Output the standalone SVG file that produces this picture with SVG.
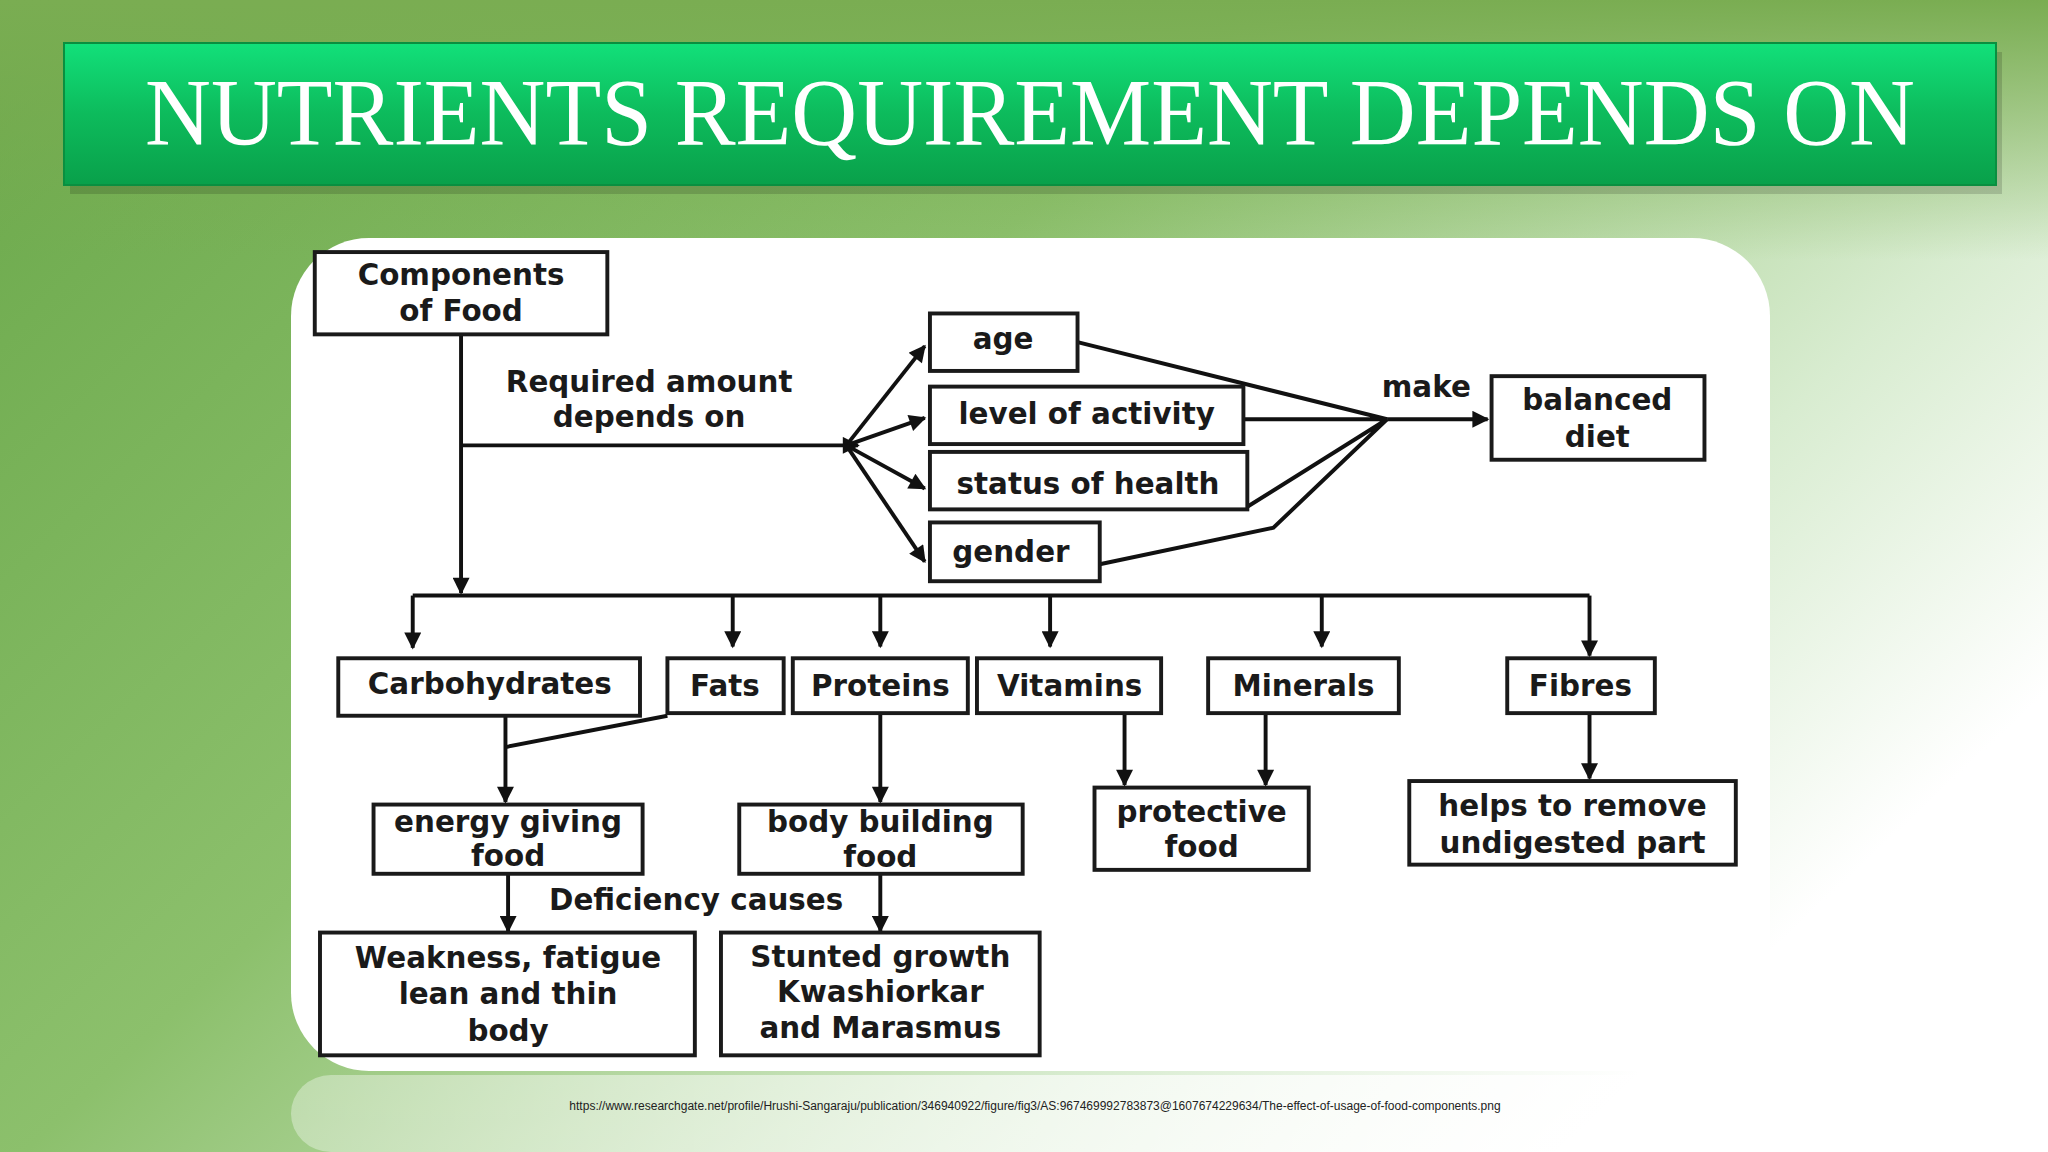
<svg xmlns="http://www.w3.org/2000/svg" width="2048" height="1152" viewBox="0 0 2048 1152">
<defs>
<linearGradient id="bg" x1="0" y1="0" x2="1" y2="0.6">
<stop offset="0" stop-color="#6aa84a"/><stop offset="0.45" stop-color="#8cc06c"/><stop offset="0.8" stop-color="#d8ecd0"/><stop offset="1" stop-color="#ffffff"/>
</linearGradient>
<linearGradient id="top" x1="0" y1="0" x2="0" y2="1">
<stop offset="0" stop-color="#7aad52"/><stop offset="1" stop-color="#7aad52" stop-opacity="0"/>
</linearGradient>
<linearGradient id="bar" x1="0" y1="0" x2="0" y2="1">
<stop offset="0" stop-color="#12e07a"/><stop offset="0.5" stop-color="#0dbb5c"/><stop offset="1" stop-color="#09a04a"/>
</linearGradient>
<linearGradient id="refl" x1="0" y1="0" x2="1" y2="0">
<stop offset="0" stop-color="#ffffff" stop-opacity="0.35"/><stop offset="1" stop-color="#ffffff" stop-opacity="0.9"/>
</linearGradient>
<marker id="ah" viewBox="0 0 10 10" refX="9" refY="5" markerWidth="15" markerHeight="13" orient="auto" markerUnits="userSpaceOnUse"><path d="M0,0 L10,5 L0,10 z" fill="#111"/></marker>
<style>
.b{fill:#fff;stroke:#1a1a1a;stroke-width:3}
.t{font-family:"DejaVu Sans",sans-serif;font-weight:bold;font-size:22.5px;fill:#1a1a1a;text-anchor:middle}
.c{stroke:#111;stroke-width:3;fill:none}
.a{stroke:#111;stroke-width:3;fill:none;marker-end:url(#ah)}
</style>
</defs>
<rect width="2048" height="1152" fill="url(#bg)"/>
<rect width="2048" height="260" fill="url(#top)"/>
<rect x="70" y="52" width="1932" height="142" fill="#000" opacity="0.15"/>
<rect x="64" y="43" width="1932" height="142" fill="url(#bar)" stroke="#0a8f40" stroke-width="2"/>
<text x="1030" y="145" font-family="Liberation Serif,serif" font-size="96" fill="#fff" text-anchor="middle" textLength="1770" lengthAdjust="spacingAndGlyphs">NUTRIENTS REQUIREMENT DEPENDS ON</text>
<rect x="291" y="238" width="1479" height="833" rx="78" fill="#fff"/>
<rect x="291" y="1075" width="1479" height="77" rx="40" fill="url(#refl)"/>
<text x="1035" y="1110" font-family="Liberation Sans,sans-serif" font-size="12" fill="#222" text-anchor="middle">https://www.researchgate.net/profile/Hrushi-Sangaraju/publication/346940922/figure/fig3/AS:967469992783873@1607674229634/The-effect-of-usage-of-food-components.png</text>
<g transform="scale(1.3061)">
<g id="connectors">
<path class="a" d="M353,256 V454"/>
<path class="a" d="M353,341 H657"/>
<path class="a" d="M648,341 L708,265"/>
<path class="a" d="M648,341 L708,320"/>
<path class="a" d="M648,341 L708,374"/>
<path class="a" d="M648,341 L708,430"/>
<path class="c" d="M825,262 L1062,321 M952,321 H1062 M955,388 L1062,321 M842,432 L975,404 L1062,321"/>
<path class="a" d="M1062,321 H1139"/>
<path class="c" d="M316,456 H1217"/>
<path class="a" d="M316,456 V496"/>
<path class="a" d="M561,456 V495"/>
<path class="a" d="M674,456 V495"/>
<path class="a" d="M804,456 V495"/>
<path class="a" d="M1012,456 V495"/>
<path class="a" d="M1217,456 V502"/>
<path class="a" d="M387,548 V614"/>
<path class="c" d="M511,548 L387,572"/>
<path class="a" d="M674,546 V614"/>
<path class="a" d="M861,546 V601"/>
<path class="a" d="M969,546 V601"/>
<path class="a" d="M1217,546 V596"/>
<path class="a" d="M389,669 V713"/>
<path class="a" d="M674,669 V713"/>
<text class="t" x="497" y="300">Required amount</text>
<text class="t" x="497" y="327">depends on</text>
<text class="t" x="1092" y="304">make</text>
<text class="t" x="533" y="697">Deficiency causes</text>
</g>
<g id="components"><rect class="b" x="241" y="193" width="224" height="63"/><text class="t" x="353" y="218">Components</text><text class="t" x="353" y="246">of Food</text></g>
<g id="age"><rect class="b" x="712" y="240" width="113" height="44"/><text class="t" x="768" y="267">age</text></g>
<g id="activity"><rect class="b" x="712" y="296" width="240" height="44"/><text class="t" x="832" y="325">level of activity</text></g>
<g id="health"><rect class="b" x="712" y="346" width="243" height="44"/><text class="t" x="833" y="378">status of health</text></g>
<g id="gender"><rect class="b" x="712" y="400" width="130" height="45"/><text class="t" x="774" y="430">gender</text></g>
<g id="diet"><rect class="b" x="1142" y="288" width="163" height="64"/><text class="t" x="1223" y="314">balanced</text><text class="t" x="1223" y="342">diet</text></g>
<g id="carb"><rect class="b" x="259" y="504" width="231" height="44"/><text class="t" x="375" y="531">Carbohydrates</text></g>
<g id="fats"><rect class="b" x="511" y="504" width="89" height="42"/><text class="t" x="555" y="533">Fats</text></g>
<g id="proteins"><rect class="b" x="607" y="504" width="134" height="42"/><text class="t" x="674" y="533">Proteins</text></g>
<g id="vitamins"><rect class="b" x="748" y="504" width="141" height="42"/><text class="t" x="819" y="533">Vitamins</text></g>
<g id="minerals"><rect class="b" x="925" y="504" width="146" height="42"/><text class="t" x="998" y="533">Minerals</text></g>
<g id="fibres"><rect class="b" x="1154" y="504" width="113" height="42"/><text class="t" x="1210" y="533">Fibres</text></g>
<g id="energy"><rect class="b" x="286" y="616" width="206" height="53"/><text class="t" x="389" y="637">energy giving</text><text class="t" x="389" y="663">food</text></g>
<g id="bodybuilding"><rect class="b" x="566" y="616" width="217" height="53"/><text class="t" x="674" y="637">body building</text><text class="t" x="674" y="664">food</text></g>
<g id="protective"><rect class="b" x="838" y="603" width="164" height="63"/><text class="t" x="920" y="629">protective</text><text class="t" x="920" y="656">food</text></g>
<g id="helps"><rect class="b" x="1079" y="598" width="250" height="64"/><text class="t" x="1204" y="625">helps to remove</text><text class="t" x="1204" y="653">undigested part</text></g>
<g id="weakness"><rect class="b" x="245" y="714" width="287" height="94"/><text class="t" x="389" y="741">Weakness, fatigue</text><text class="t" x="389" y="769">lean and thin</text><text class="t" x="389" y="797">body</text></g>
<g id="stunted"><rect class="b" x="552" y="714" width="244" height="94"/><text class="t" x="674" y="740">Stunted growth</text><text class="t" x="674" y="767">Kwashiorkar</text><text class="t" x="674" y="795">and Marasmus</text></g>
</g>
</svg>
